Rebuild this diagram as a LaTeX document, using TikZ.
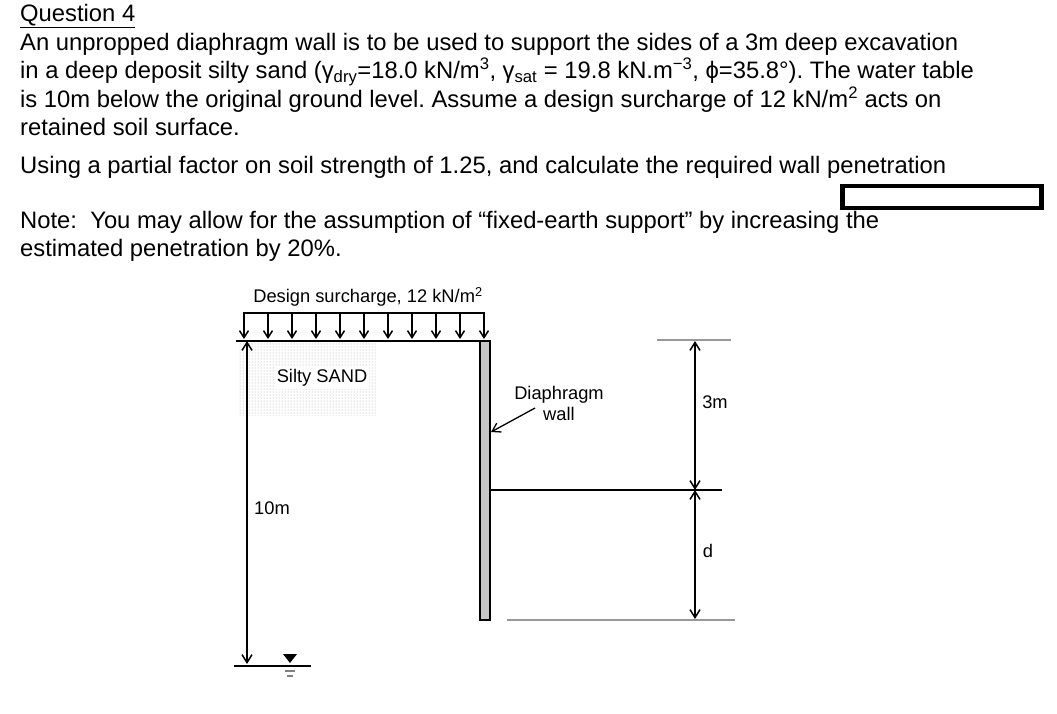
\documentclass[tikz,border=0pt]{standalone}
\usepackage{fontspec}
\setmainfont{Liberation Sans}
\usetikzlibrary{arrows.meta,patterns}
\frenchspacing
\begin{document}
\begin{tikzpicture}[x=1pt,y=-1pt,
  body/.style={anchor=west,inner sep=0,font=\fontsize{23.8}{26}\selectfont},
  lab/.style={inner sep=1pt,font=\fontsize{18.3}{20}\selectfont},
  dim/.style={line width=1.5pt,{Straight Barb[length=8pt,width=10pt]}-{Straight Barb[length=8pt,width=10pt]}},
  ln/.style={line width=1.5pt}]
\useasboundingbox (0,0) rectangle (1057,713);
\node[body] (t0) at (20,16) {\underline{Question 4}};
\node[body] (t1) at (20,44) {An unpropped diaphragm wall is to be used to support the sides of a 3m deep excavation};
\node[body] (t2) at (20,72) {in a deep deposit silty sand (γ\textsubscript{dry}=18.0 kN/m\textsuperscript{3}, γ\textsubscript{sat} = 19.8 kN.m\textsuperscript{−3}, ϕ=35.8°). The water table};
\node[body] (t3) at (20,100) {is 10m below the original ground level. Assume a design surcharge of 12 kN/m\textsuperscript{2} acts on};
\node[body] (t4) at (20,127) {retained soil surface.};
\node[body] (t5) at (20,167) {Using a partial factor on soil strength of 1.25, and calculate the required wall penetration};
\node[draw,line width=4.5pt,minimum width=199pt,minimum height=22pt,inner sep=0] (box) at (942,197) {};
\node[body] (t6) at (20,222) {Note:\ \ You may allow for the assumption of “fixed-earth support” by increasing the};
\node[body] (t7) at (20,250) {estimated penetration by 20\%.};
% diagram
\node[lab] (sur) at (368,297) {Design surcharge, 12 kN/m\textsuperscript{2}};
\draw[ln] (243,313) -- (485,313);
\foreach \i in {0,...,10}{\draw[ln,-{Straight Barb[length=7pt,width=9pt]}] (244+24*\i,313) -- (244+24*\i,339);}
\fill[pattern=dots,pattern color=gray!70] (239,343) rectangle (376,415);
\draw[line width=2.2pt] (236,341) -- (481,341);
\draw[line width=1.5pt,fill=gray!45] (480,341) rectangle (490,620);
\node[lab,fill=white,inner sep=2pt] (sand) at (322,378) {Silty SAND};
\coordinate (l1) at (247,341); \coordinate (l2) at (247,664);
\draw[dim] (l1) -- (l2);
\node[lab,fill=white] (ten) at (272,508) {10m};
\draw[ln] (234,666) -- (311,666);
\fill (283,654) -- (297,654) -- (290,663) -- cycle;
\draw[gray,line width=1.5pt] (285,671) -- (295,671) (287,676) -- (293,676);
\draw[ln] (490,490) -- (722,490);
\draw[gray!80,line width=1.5pt] (507,620) -- (735,620);
\draw[gray!80,line width=1.7pt] (657,340) -- (731,340);
\coordinate (d1) at (695,341); \coordinate (d2) at (695,490); \coordinate (d3) at (695,619);
\draw[dim] (d1) -- (d2);
\draw[dim] (d2) -- (d3);
\node[lab] (three) at (715,402) {3m};
\node[lab] (dd) at (708,551) {d};
\node[lab,align=center,font=\fontsize{18.3}{21}\selectfont] (dw) at (559,403) {Diaphragm\\wall};
\coordinate (wt) at (491,432);
\draw[line width=1.3pt,-{Straight Barb[length=8pt,width=10pt]}] (535,408) -- (wt);
\end{tikzpicture}
\end{document}
